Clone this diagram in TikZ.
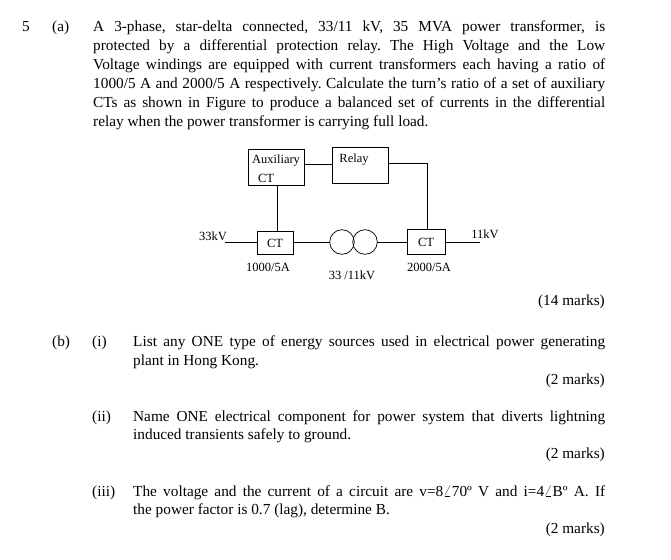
\documentclass[tikz,border=0pt]{standalone}
\usepackage{fontspec}
\setmainfont{Liberation Serif}
\begin{document}
\frenchspacing
\begin{tikzpicture}[x=1pt,y=-1pt,
  t/.style={anchor=base west,inner sep=0,font=\fontsize{15.3}{17}\selectfont},
  tr/.style={anchor=base east,inner sep=0,font=\fontsize{15.3}{17}\selectfont},
  d/.style={inner sep=0,font=\fontsize{12.5}{13}\selectfont},
  box/.style={draw,line width=0.7pt},
  w/.style={line width=0.7pt}]
\useasboundingbox (0,0) rectangle (671,559);
\node[t] (n5) at (22,32) {5};
\node[t] (na) at (52,32) {(a)};
\node[t] (l1) at (93,32) {\makebox[512pt][s]{A 3-phase, star-delta connected, 33/11 kV, 35 MVA power transformer, is}};
\node[t] (l2) at (93,51) {\makebox[512pt][s]{protected by a differential protection relay. The High Voltage and the Low}};
\node[t] (l3) at (93,70) {\makebox[512pt][s]{Voltage windings are equipped with current transformers each having a ratio of}};
\node[t] (l4) at (93,89) {\makebox[512pt][s]{1000/5 A and 2000/5 A respectively. Calculate the turn’s ratio of a set of auxiliary}};
\node[t] (l5) at (93,108) {\makebox[512pt][s]{CTs as shown in Figure to produce a balanced set of currents in the differential}};
\node[t] (l6) at (93,126) {relay when the power transformer is carrying full load.};
% diagram
\draw[box] (248,149) rectangle (304,185);
\node[d] (aux) at (276,161) {Auxiliary};
\node[d] (auxct) at (266,178) {CT};
\draw[box] (332,147) rectangle (388,183);
\node[d] (relay) at (354,160) {Relay};
\draw[box] (257,231) rectangle (293,254);
\node[d] (ct1) at (275,243) {CT};
\draw[box] (407,229) rectangle (445,254);
\node[d] (ct2) at (426,242) {CT};
\draw[w] (304,164) -- (332,164);
\draw[w] (388,163) -- (427,163) -- (427,229);
\draw[w] (277,185) -- (277,231);
\draw[w] (225,242) -- (257,242);
\draw[w] (293,242) -- (330,242);
\draw[w] (342,242) circle (12.3);
\draw[w] (365,242) circle (12.3);
\draw[w] (377,242) -- (407,242);
\draw[w] (445,242) -- (480,242);
\node[d] (v33) at (213,236) {33kV};
\node[d] (v11) at (485,234) {11kV};
\node[d] (r1) at (268,267) {1000/5A};
\node[d] (r3) at (352,275) {33 /11kV};
\node[d] (r2) at (429,267) {2000/5A};
\node[tr] (m1) at (605,305) {(14 marks)};
% b
\node[t] (nb) at (52,346) {(b)};
\node[t] (ni) at (92,346) {(i)};
\node[t] (b1) at (133,346) {\makebox[472pt][s]{List any ONE type of energy sources used in electrical power generating}};
\node[t] (b2) at (133,365) {plant in Hong Kong.};
\node[tr] (m2) at (605,384) {(2 marks)};
\node[t] (nii) at (92,421) {(ii)};
\node[t] (c1) at (133,421) {\makebox[472pt][s]{Name ONE electrical component for power system that diverts lightning}};
\node[t] (c2) at (133,439) {induced transients safely to ground.};
\node[tr] (m3) at (605,458) {(2 marks)};
\node[t] (niii) at (92,496) {(iii)};
\node[t] (d1) at (133,496) {\makebox[472pt][s]{The voltage and the current of a circuit are v=8$\angle$70º V and i=4$\angle$Bº A. If}};
\node[t] (d2) at (133,514) {the power factor is 0.7 (lag), determine B.};
\node[tr] (m4) at (605,533) {(2 marks)};
\end{tikzpicture}
\end{document}
